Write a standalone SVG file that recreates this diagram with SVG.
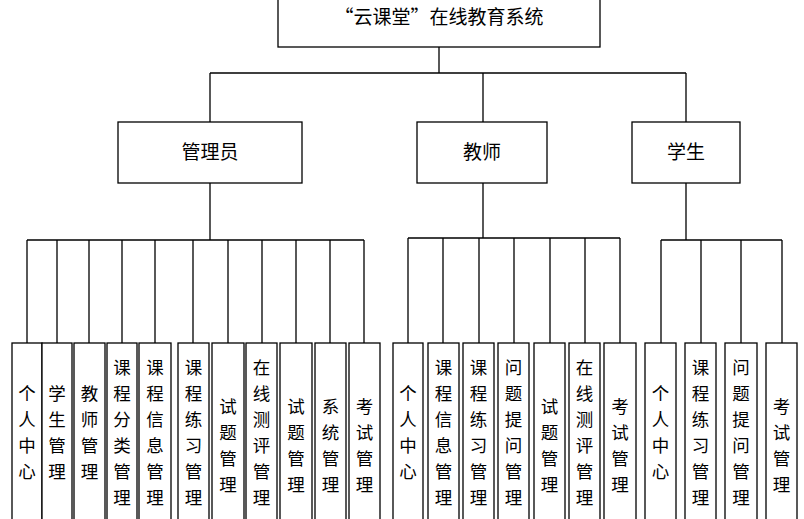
<svg xmlns="http://www.w3.org/2000/svg" width="804" height="519" viewBox="0 0 804 519">
<style>
.b{fill:#fff;stroke:#000;stroke-width:1.3}
.l{fill:none;stroke:#000;stroke-width:1.3}
text{font-family:"Noto Sans CJK SC","Noto Sans",sans-serif;fill:#000;text-anchor:middle}
.t{font-size:19px}
.v{font-size:17.5px}
</style>
<rect width="804" height="519" fill="#fff"/>
<g id="connectors">
<path class="l" d="M439 47V73M210 73H686M210 73V122M483 73V122M686 73V122"/>
<path class="l" d="M210 183V240M27 240H364M27 240V343M57 240V343M89 240V343M122 240V343M155 240V343M193 240V343M228 240V343M262 240V343M296 240V343M330 240V343M364 240V343"/>
<path class="l" d="M483 183V238M408 238H620M408 238V343M443 238V343M479 238V343M514 238V343M550 238V343M585 238V343M620 238V343"/>
<path class="l" d="M686 183V240M661 240H782M661 240V343M701 240V343M741 240V343M782 240V343"/>
</g>
<g id="root"><rect class="b" x="278" y="-2" width="322" height="49"/><text class="t" x="439" y="24">“云课堂”在线教育系统</text></g>
<g id="admin"><rect class="b" x="118" y="122" width="184" height="61"/><text class="t" x="210" y="159">管理员</text></g>
<g id="teacher"><rect class="b" x="417" y="122" width="130" height="61"/><text class="t" x="482" y="159">教师</text></g>
<g id="student"><rect class="b" x="632" y="122" width="108" height="61"/><text class="t" x="686" y="159">学生</text></g>
<g id="leaves">
<g id="a1"><rect class="b" x="12" y="343" width="30" height="180"/><text class="v" x="27"><tspan x="27" y="400">个</tspan><tspan x="27" y="426">人</tspan><tspan x="27" y="452">中</tspan><tspan x="27" y="478">心</tspan></text></g>
<g id="a2"><rect class="b" x="42" y="343" width="30" height="180"/><text class="v" x="57"><tspan x="57" y="400">学</tspan><tspan x="57" y="426">生</tspan><tspan x="57" y="452">管</tspan><tspan x="57" y="478">理</tspan></text></g>
<g id="a3"><rect class="b" x="74" y="343" width="31" height="180"/><text class="v"><tspan x="89.5" y="400">教</tspan><tspan x="89.5" y="426">师</tspan><tspan x="89.5" y="452">管</tspan><tspan x="89.5" y="478">理</tspan></text></g>
<g id="a4"><rect class="b" x="107" y="343" width="30" height="180"/><text class="v"><tspan x="122" y="374">课</tspan><tspan x="122" y="400">程</tspan><tspan x="122" y="426">分</tspan><tspan x="122" y="452">类</tspan><tspan x="122" y="478">管</tspan><tspan x="122" y="504">理</tspan></text></g>
<g id="a5"><rect class="b" x="139" y="343" width="32" height="180"/><text class="v"><tspan x="155" y="374">课</tspan><tspan x="155" y="400">程</tspan><tspan x="155" y="426">信</tspan><tspan x="155" y="452">息</tspan><tspan x="155" y="478">管</tspan><tspan x="155" y="504">理</tspan></text></g>
<g id="a6"><rect class="b" x="178" y="343" width="31" height="180"/><text class="v"><tspan x="193.5" y="374">课</tspan><tspan x="193.5" y="400">程</tspan><tspan x="193.5" y="426">练</tspan><tspan x="193.5" y="452">习</tspan><tspan x="193.5" y="478">管</tspan><tspan x="193.5" y="504">理</tspan></text></g>
<g id="a7"><rect class="b" x="212" y="343" width="32" height="180"/><text class="v"><tspan x="228" y="413">试</tspan><tspan x="228" y="439">题</tspan><tspan x="228" y="465">管</tspan><tspan x="228" y="491">理</tspan></text></g>
<g id="a8"><rect class="b" x="246" y="343" width="31" height="180"/><text class="v"><tspan x="261.5" y="374">在</tspan><tspan x="261.5" y="400">线</tspan><tspan x="261.5" y="426">测</tspan><tspan x="261.5" y="452">评</tspan><tspan x="261.5" y="478">管</tspan><tspan x="261.5" y="504">理</tspan></text></g>
<g id="a9"><rect class="b" x="280" y="343" width="32" height="180"/><text class="v"><tspan x="296" y="413">试</tspan><tspan x="296" y="439">题</tspan><tspan x="296" y="465">管</tspan><tspan x="296" y="491">理</tspan></text></g>
<g id="a10"><rect class="b" x="315" y="343" width="31" height="180"/><text class="v"><tspan x="330.5" y="413">系</tspan><tspan x="330.5" y="439">统</tspan><tspan x="330.5" y="465">管</tspan><tspan x="330.5" y="491">理</tspan></text></g>
<g id="a11"><rect class="b" x="349" y="343" width="31" height="180"/><text class="v"><tspan x="364.5" y="413">考</tspan><tspan x="364.5" y="439">试</tspan><tspan x="364.5" y="465">管</tspan><tspan x="364.5" y="491">理</tspan></text></g>
<g id="t1"><rect class="b" x="393" y="343" width="30" height="180"/><text class="v"><tspan x="408" y="400">个</tspan><tspan x="408" y="426">人</tspan><tspan x="408" y="452">中</tspan><tspan x="408" y="478">心</tspan></text></g>
<g id="t2"><rect class="b" x="428" y="343" width="31" height="180"/><text class="v"><tspan x="443.5" y="374">课</tspan><tspan x="443.5" y="400">程</tspan><tspan x="443.5" y="426">信</tspan><tspan x="443.5" y="452">息</tspan><tspan x="443.5" y="478">管</tspan><tspan x="443.5" y="504">理</tspan></text></g>
<g id="t3"><rect class="b" x="463" y="343" width="31" height="180"/><text class="v"><tspan x="478.5" y="374">课</tspan><tspan x="478.5" y="400">程</tspan><tspan x="478.5" y="426">练</tspan><tspan x="478.5" y="452">习</tspan><tspan x="478.5" y="478">管</tspan><tspan x="478.5" y="504">理</tspan></text></g>
<g id="t4"><rect class="b" x="498" y="343" width="31" height="180"/><text class="v"><tspan x="513.5" y="374">问</tspan><tspan x="513.5" y="400">题</tspan><tspan x="513.5" y="426">提</tspan><tspan x="513.5" y="452">问</tspan><tspan x="513.5" y="478">管</tspan><tspan x="513.5" y="504">理</tspan></text></g>
<g id="t5"><rect class="b" x="534" y="343" width="31" height="180"/><text class="v"><tspan x="549.5" y="413">试</tspan><tspan x="549.5" y="439">题</tspan><tspan x="549.5" y="465">管</tspan><tspan x="549.5" y="491">理</tspan></text></g>
<g id="t6"><rect class="b" x="569" y="343" width="31" height="180"/><text class="v"><tspan x="584.5" y="374">在</tspan><tspan x="584.5" y="400">线</tspan><tspan x="584.5" y="426">测</tspan><tspan x="584.5" y="452">评</tspan><tspan x="584.5" y="478">管</tspan><tspan x="584.5" y="504">理</tspan></text></g>
<g id="t7"><rect class="b" x="604" y="343" width="32" height="180"/><text class="v"><tspan x="620" y="413">考</tspan><tspan x="620" y="439">试</tspan><tspan x="620" y="465">管</tspan><tspan x="620" y="491">理</tspan></text></g>
<g id="s1"><rect class="b" x="645" y="343" width="31" height="180"/><text class="v"><tspan x="660.5" y="400">个</tspan><tspan x="660.5" y="426">人</tspan><tspan x="660.5" y="452">中</tspan><tspan x="660.5" y="478">心</tspan></text></g>
<g id="s2"><rect class="b" x="685" y="343" width="31" height="180"/><text class="v"><tspan x="700.5" y="374">课</tspan><tspan x="700.5" y="400">程</tspan><tspan x="700.5" y="426">练</tspan><tspan x="700.5" y="452">习</tspan><tspan x="700.5" y="478">管</tspan><tspan x="700.5" y="504">理</tspan></text></g>
<g id="s3"><rect class="b" x="725" y="343" width="32" height="180"/><text class="v"><tspan x="741" y="374">问</tspan><tspan x="741" y="400">题</tspan><tspan x="741" y="426">提</tspan><tspan x="741" y="452">问</tspan><tspan x="741" y="478">管</tspan><tspan x="741" y="504">理</tspan></text></g>
<g id="s4"><rect class="b" x="766" y="343" width="31" height="180"/><text class="v"><tspan x="781.5" y="413">考</tspan><tspan x="781.5" y="439">试</tspan><tspan x="781.5" y="465">管</tspan><tspan x="781.5" y="491">理</tspan></text></g>
</g>
</svg>
